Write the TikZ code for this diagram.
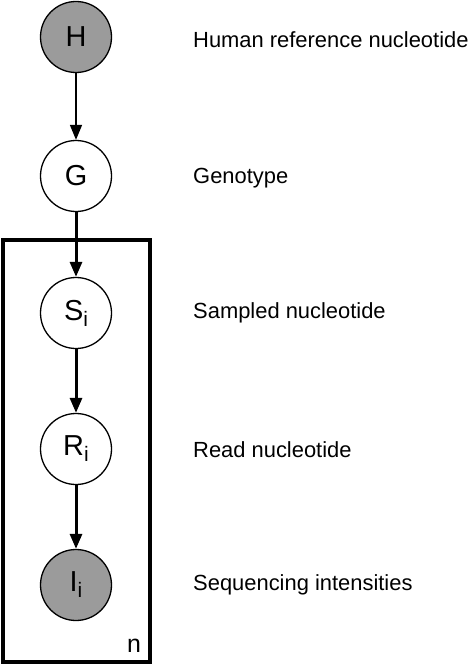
\documentclass[tikz,border=0pt]{standalone}
\usepackage{fontspec}
\setmainfont{Liberation Sans}
\usetikzlibrary{arrows.meta}
\definecolor{obsgray}{RGB}{155,155,155}
\tikzset{
  var/.style={circle,draw=black,line width=1.3bp,minimum size=71bp,inner sep=0pt,font=\fontsize{29}{29}\selectfont},
  obs/.style={var,fill=obsgray},
  lat/.style={var,fill=white},
  lab/.style={anchor=west,inner sep=0pt,font=\fontsize{22}{22}\selectfont},
  thin edge/.style={line width=1.6bp,-{Triangle[length=15bp,width=12bp]}},
  thick edge/.style={line width=3bp,-{Triangle[length=15bp,width=12bp]}},
  plate/.style={draw=black,line width=3.2bp}
}
\newcommand{\sub}[1]{\raisebox{-6bp}{\fontsize{21}{21}\selectfont #1}}
\begin{document}
\begin{tikzpicture}[x=1bp,y=-1bp]
\useasboundingbox (0,0) rectangle (474,668);
\draw[plate] (3,240) rectangle (150,662);
\node[obs] (H) at (76,37) {H};
\node[lat] (G) at (76,176) {G};
\node[lat] (S) at (76,313) {S\sub{i}};
\node[lat] (R) at (76,449) {R\sub{i}};
\node[obs] (I) at (76,585) {I\sub{i}};
\node[anchor=base,inner sep=0pt,font=\fontsize{25}{25}\selectfont] (n) at (134,652) {n};
\draw[thin edge] (H) -- (G);
\draw[thick edge] (G) -- (S);
\draw[thick edge] (S) -- (R);
\draw[thick edge] (R) -- (I);
\node[lab] (lH) at (193,40) {Human reference nucleotide};
\node[lab] (lG) at (193,178) {Genotype};
\node[lab] (lS) at (193,313) {Sampled nucleotide};
\node[lab] (lR) at (193,450) {Read nucleotide};
\node[lab] (lI) at (193,585) {Sequencing intensities};
\end{tikzpicture}
\end{document}
